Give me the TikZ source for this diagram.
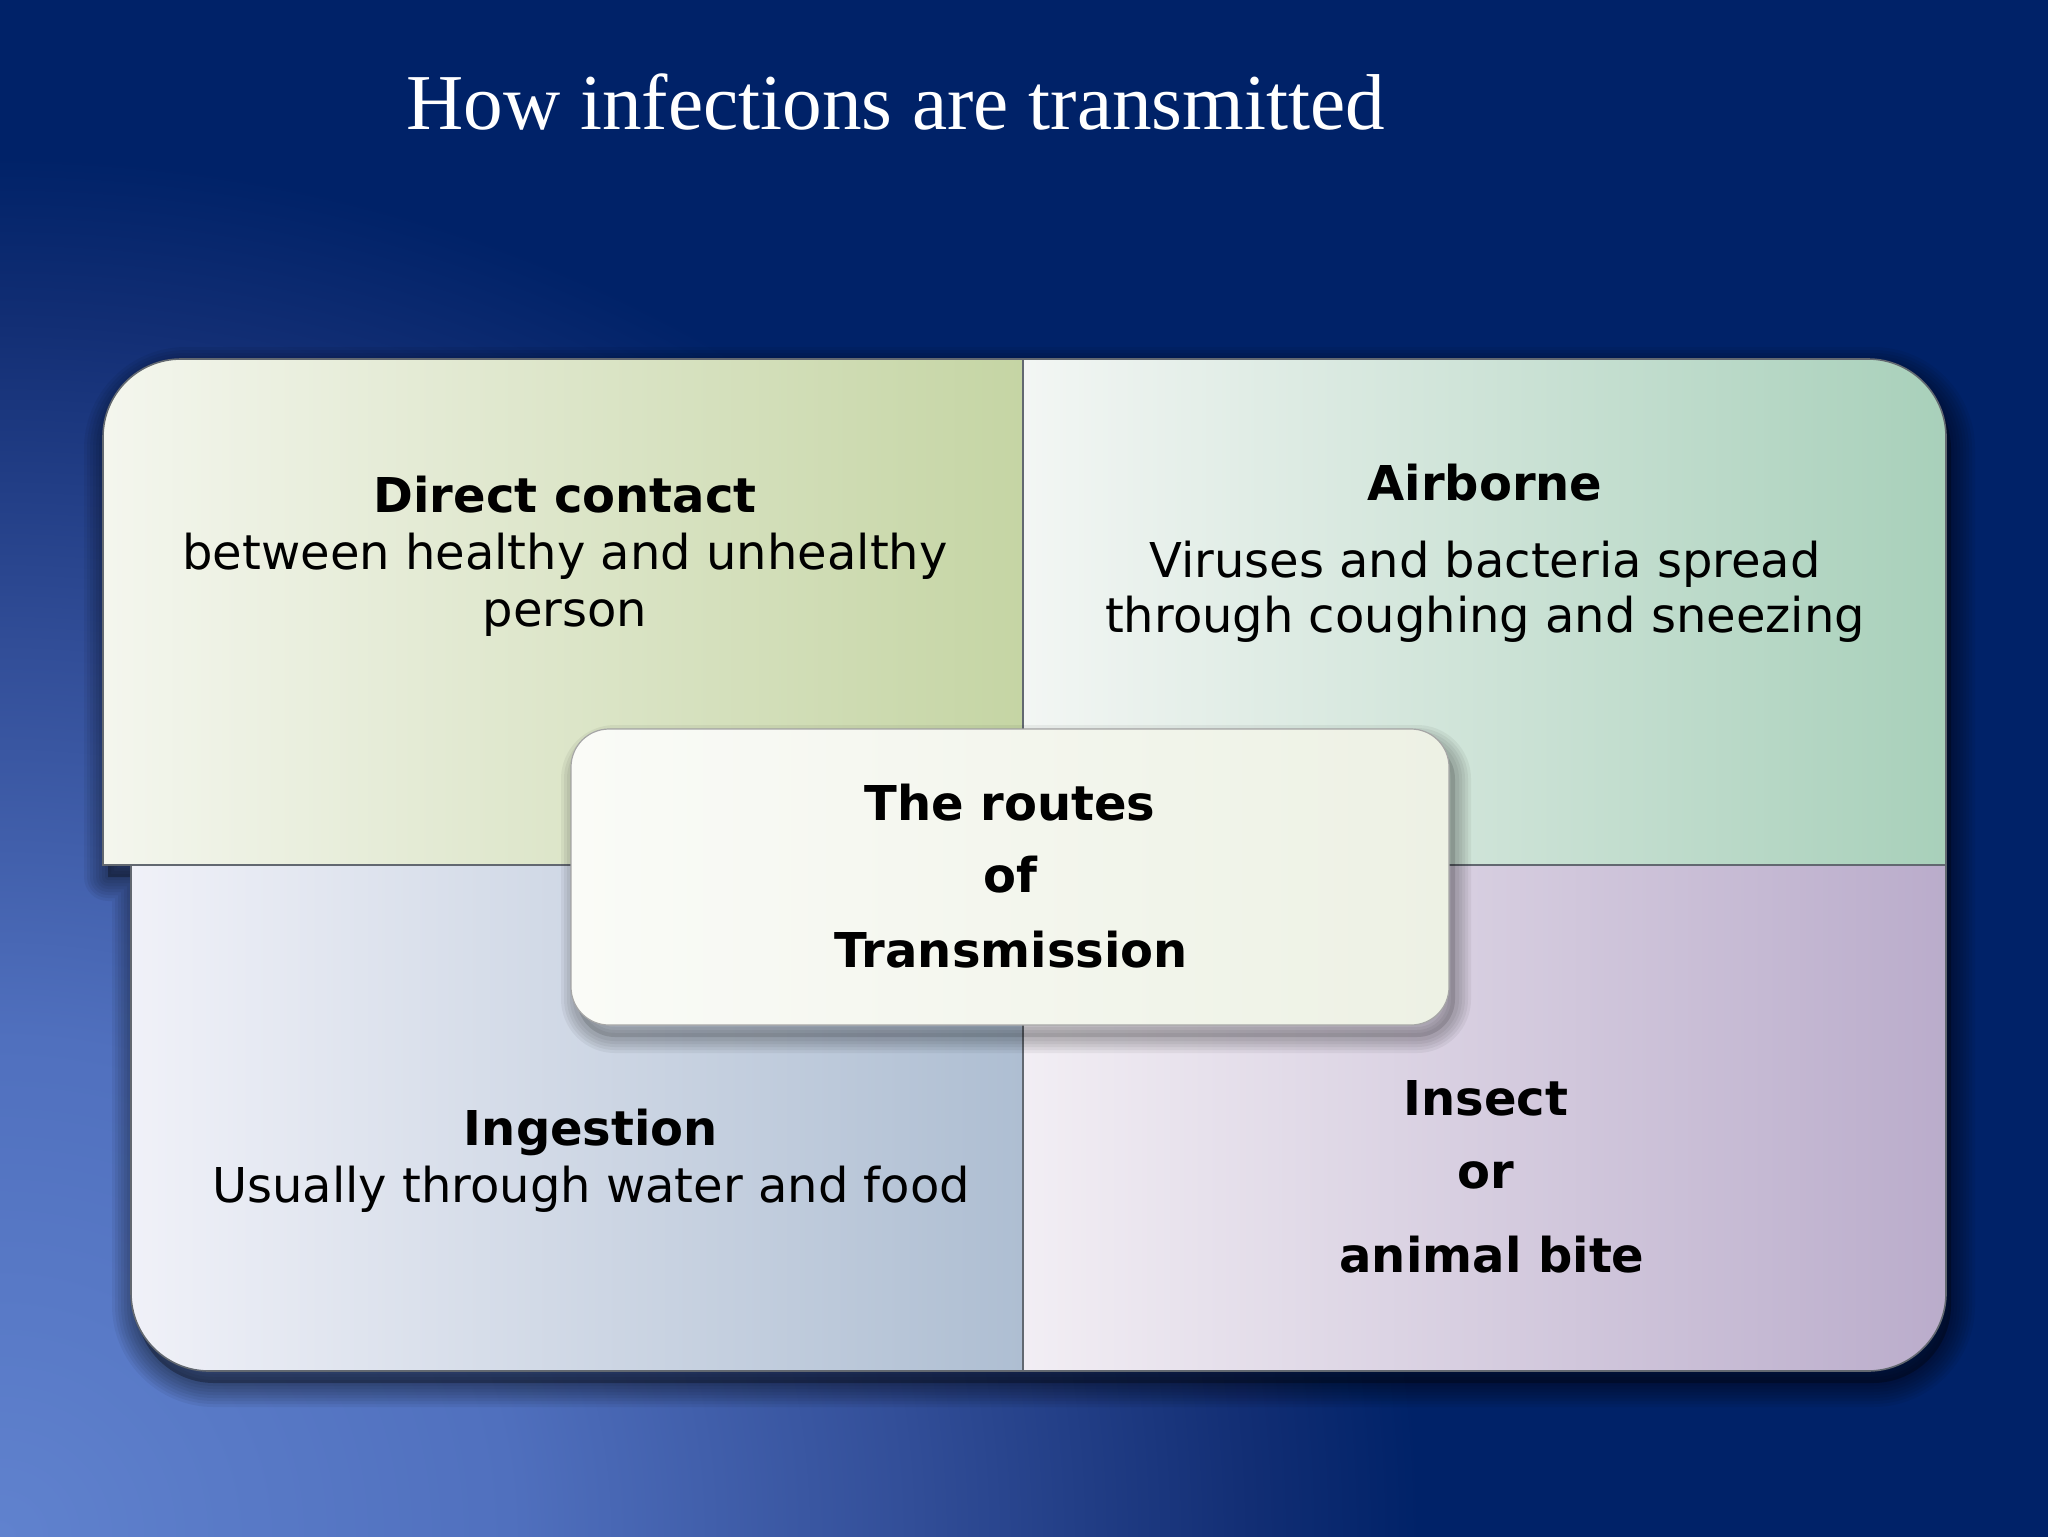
\documentclass[tikz,border=0pt]{standalone}
\usepackage{fontspec}
\setmainfont{DejaVu Sans}
\newfontfamily\titlefont{Liberation Serif}
\definecolor{navy}{RGB}{0,34,104}
\definecolor{glowA}{RGB}{96,130,206}
\definecolor{glowB}{RGB}{80,112,190}
\definecolor{glowC}{RGB}{50,78,152}
\definecolor{glowD}{RGB}{18,46,116}
\definecolor{tlA}{HTML}{F4F6EE}
\definecolor{tlB}{HTML}{C5D5A4}
\definecolor{trA}{HTML}{F3F6F4}
\definecolor{trB}{HTML}{A8D0BA}
\definecolor{blA}{HTML}{F0F1F8}
\definecolor{blB}{HTML}{AEBED2}
\definecolor{brA}{HTML}{F2EEF4}
\definecolor{brB}{HTML}{BAACCB}
\definecolor{cbA}{HTML}{FAFBF7}
\definecolor{cbB}{HTML}{EDF1E4}
\definecolor{edge}{HTML}{626870}
\pgfdeclareradialshading{bgglow}{\pgfpoint{0bp}{0bp}}{color(0bp)=(glowA); color(9bp)=(glowB); color(16bp)=(glowC); color(22bp)=(glowD); color(25bp)=(navy); color(50bp)=(navy)}
\begin{document}
\begin{tikzpicture}[x=0.5pt,y=-0.5pt,
  head/.style={font=\fontsize{24}{29}\selectfont\bfseries, anchor=base, inner sep=0pt, text=black},
  body/.style={font=\fontsize{24}{29}\selectfont, anchor=base, inner sep=0pt, text=black},
  paneledge/.style={draw=edge, line width=0.8pt},
  shadowstroke/.style={draw=black, opacity=0.055, line join=round}]
\useasboundingbox (0,0) rectangle (2048,1536);
% background
\fill[navy] (-20,-20) rectangle (2068,1556);
\begin{scope}
  \clip (-20,-20) rectangle (2068,1556);
  \shade[shading=bgglow] (0,1536) ellipse[x radius=1420, y radius=1380];
\end{scope}
% title
\node[anchor=base west, inner sep=0pt, text=white, font=\titlefont\fontsize{39.6}{46}\selectfont] (title) at (406,129) {How infections are transmitted};
% drop shadow of the panel block
\begin{scope}[shift={(5,12)}]
  \foreach \w in {48,42,36,30,24,18,12,6}{
    \draw[shadowstroke, line width=\w*0.5pt] (103,865) -- (103,437) arc[start angle=180,end angle=270,radius=78] -- (1868,359) arc[start angle=270,end angle=360,radius=78] -- (1946,1293) arc[start angle=0,end angle=90,radius=78] -- (209,1371) arc[start angle=90,end angle=180,radius=78] -- (131,865) -- cycle;
  }
  \fill[black,opacity=0.3] (103,865) -- (103,437) arc[start angle=180,end angle=270,radius=78] -- (1868,359) arc[start angle=270,end angle=360,radius=78] -- (1946,1293) arc[start angle=0,end angle=90,radius=78] -- (209,1371) arc[start angle=90,end angle=180,radius=78] -- (131,865) -- cycle;
\end{scope}
% panels
\shade[left color=tlA, middle color=tlA!65!tlB, right color=tlB] (103,865) -- (103,437) arc[start angle=180,end angle=270,radius=78] -- (1023,359) -- (1023,865) -- cycle;
\shade[left color=trA, middle color=trA!60!trB, right color=trB] (1023,359) -- (1868,359) arc[start angle=270,end angle=360,radius=78] -- (1946,865) -- (1023,865) -- cycle;
\shade[left color=blA, middle color=blA!60!blB, right color=blB] (131,865) -- (1023,865) -- (1023,1371) -- (209,1371) arc[start angle=90,end angle=180,radius=78] -- cycle;
\shade[left color=brA, middle color=brA!60!brB, right color=brB] (1023,865) -- (1946,865) -- (1946,1293) arc[start angle=0,end angle=90,radius=78] -- (1023,1371) -- cycle;
\draw[paneledge] (103,865) -- (103,437) arc[start angle=180,end angle=270,radius=78] -- (1023,359) -- (1023,865) -- cycle;
\draw[paneledge] (1023,359) -- (1868,359) arc[start angle=270,end angle=360,radius=78] -- (1946,865) -- (1023,865) -- cycle;
\draw[paneledge] (131,865) -- (1023,865) -- (1023,1371) -- (209,1371) arc[start angle=90,end angle=180,radius=78] -- cycle;
\draw[paneledge] (1023,865) -- (1946,865) -- (1946,1293) arc[start angle=0,end angle=90,radius=78] -- (1023,1371) -- cycle;
% centre box shadow
\begin{scope}[shift={(6,12)}]
  \foreach \w in {32,26,20,14,8}{
    \draw[shadowstroke, opacity=0.05, line width=\w*0.5pt, rounded corners=19pt] (571,729) rectangle (1449,1025);
  }
  \fill[black,opacity=0.12, rounded corners=19pt] (571,729) rectangle (1449,1025);
\end{scope}
\node[shade, left color=cbA, right color=cbB, draw=black!35, line width=0.6pt, rounded corners=19pt,
  minimum width=439pt, minimum height=148pt, inner sep=0pt] (hub) at (1010,877) {};
% texts
\node[head] (dcH) at (565,512) {Direct contact};
\node[body] (dcB1) at (565,569) {between healthy and unhealthy};
\node[body] (dcB2) at (565,626) {person};
\node[head] (abH) at (1485,500) {Airborne};
\node[body] (abB1) at (1485,577) {Viruses and bacteria spread};
\node[body] (abB2) at (1485,632) {through coughing and sneezing};
\node[head] (inH) at (591,1145) {Ingestion};
\node[body] (inB) at (591,1202) {Usually through water and food};
\node[head] (bt1) at (1486,1115) {Insect};
\node[head] (bt2) at (1486,1188) {or};
\node[head] (bt3) at (1492,1272) {animal bite};
\node[head] (ct1) at (1010,820) {The routes};
\node[head] (ct2) at (1010,892) {of};
\node[head] (ct3) at (1011,967) {Transmission};
\end{tikzpicture}
\end{document}
